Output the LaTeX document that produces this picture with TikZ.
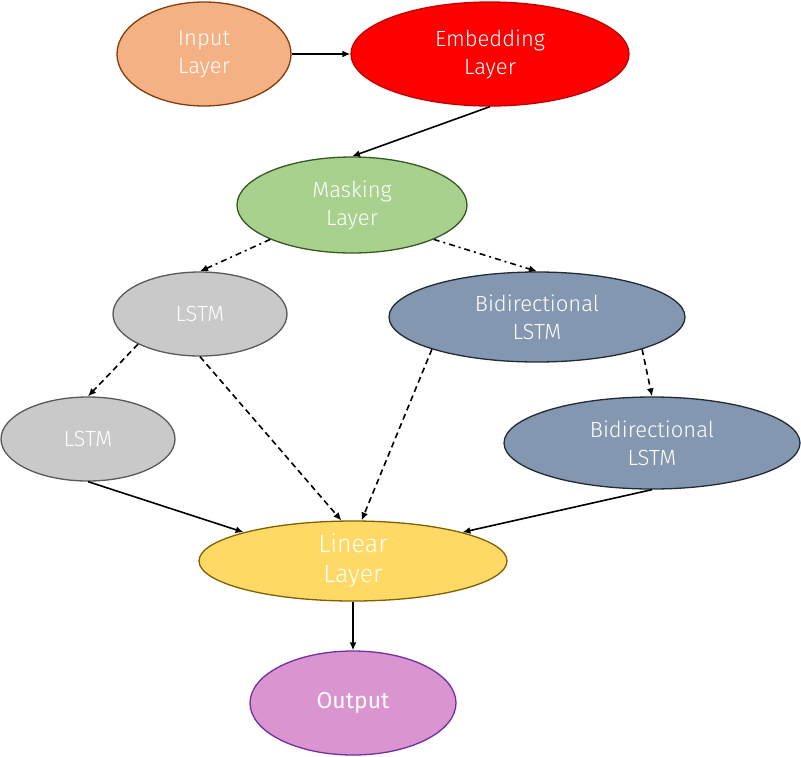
\documentclass[tikz,border=0pt]{standalone}
\usepackage{fontspec}
\setmainfont{Fira Sans Light}
\newfontfamily\boldf{Fira Sans}
\usetikzlibrary{shapes.geometric,arrows.meta}
\definecolor{inF}{HTML}{F4B183}\definecolor{inD}{HTML}{843C0C}
\definecolor{emD}{HTML}{C00000}
\definecolor{maF}{HTML}{A9D18E}\definecolor{maD}{HTML}{385723}
\definecolor{lsF}{HTML}{C9C9C9}\definecolor{lsD}{HTML}{595959}
\definecolor{biF}{HTML}{8497B0}\definecolor{biD}{HTML}{222A35}
\definecolor{liF}{HTML}{FFD966}\definecolor{liD}{HTML}{7F6000}
\definecolor{ouF}{HTML}{DA94CF}\definecolor{ouD}{HTML}{7030A0}
\tikzset{
 el/.style={ellipse,draw,line width=1.3pt,inner sep=0pt,text=white,align=center,font=\fontsize{22}{28}\selectfont},
 ar/.style={line width=1.6pt,-{Latex[length=8pt,width=7pt]}},
 dd/.style={ar,dash pattern=on 6pt off 4pt on 2pt off 4pt},
 da/.style={ar,dash pattern=on 6pt off 4pt}
}
\begin{document}
\begin{tikzpicture}[x=1pt,y=-1pt]
\useasboundingbox (0,0) rectangle (801,756);
\node[el,fill=inF,draw=inD,minimum width=174pt,minimum height=104pt] (in) at (204,54) {Input\\Layer};
\node[el,fill=red,draw=emD,minimum width=278pt,minimum height=104pt] (em) at (490,54) {Embedding\\Layer};
\node[el,fill=maF,draw=maD,minimum width=230pt,minimum height=96pt] (ma) at (352,205) {Masking\\Layer};
\node[el,fill=lsF,draw=lsD,minimum width=174pt,minimum height=84pt] (l1) at (200,314) {LSTM};
\node[el,fill=biF,draw=biD,minimum width=296pt,minimum height=90pt] (b1) at (537,317) {Bidirectional\\LSTM};
\node[el,fill=lsF,draw=lsD,minimum width=174pt,minimum height=84pt] (l2) at (88,439) {LSTM};
\node[el,fill=biF,draw=biD,minimum width=296pt,minimum height=92pt] (b2) at (652,443) {Bidirectional\\LSTM};
\node[el,fill=liF,draw=liD,minimum width=308pt,minimum height=80pt,font=\fontsize{25}{30}\selectfont] (li) at (353,561) {Linear\\Layer};
\node[el,fill=ouF,draw=ouD,minimum width=206pt,minimum height=104pt,font=\boldf\fontsize{23}{28}\selectfont] (ou) at (353,703) {Output};
\draw[ar] (in.east) -- (em.west);
\draw[ar] (em.south) -- (ma.north);
\draw[dd] (ma.south west) -- (l1.north);
\draw[dd] (ma.south east) -- (b1.north);
\draw[da] (l1.south west) -- (l2.north);
\draw[da] (l1.south) -- (li.106);
\draw[da] (b1.south west) -- (li.78);
\draw[da] (b1.south east) -- (b2.north);
\draw[ar] (l2.south) -- (li.north west);
\draw[ar] (b2.south) -- (li.north east);
\draw[ar] (li.south) -- (ou.north);
\end{tikzpicture}
\end{document}
